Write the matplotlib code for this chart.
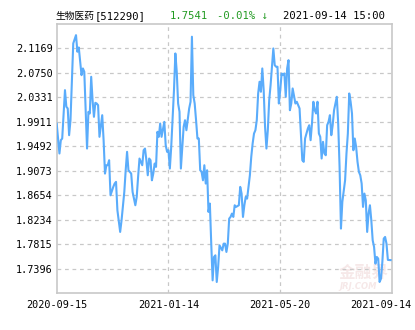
import matplotlib
matplotlib.use("Agg")
import matplotlib.pyplot as plt
from matplotlib.transforms import ScaledTranslation

# trading-day index (0 = 2020-09-15) and close value of the fund
days = [
    0, 2, 3, 4, 6, 7, 8, 9, 10, 12, 14, 15, 16, 18, 19, 20, 21, 22, 23, 24,
    25, 26, 27, 28, 29, 30, 31, 33, 34, 35, 36, 37, 38, 39, 41, 42, 43, 44, 46, 47,
    49, 50, 51, 52, 54, 55, 57, 58, 59, 60, 62, 63, 64,
    65, 66, 67, 68, 69, 70, 71, 72, 73, 74, 75, 76, 78, 79, 80, 81, 82, 83, 85, 86,
    87, 88, 89, 90, 91, 92, 93, 94, 96, 97, 98, 99, 100, 101, 102, 103, 104, 105, 106, 107,
    108, 109, 110, 111, 112, 113, 114, 115, 116, 117, 118, 120, 121, 122, 123, 124,
    125, 126, 127, 128, 129, 130, 132, 133, 134, 135, 136, 137, 138, 140, 141, 142, 143, 144, 145, 146,
    147, 148, 149, 150, 151, 152, 153, 154, 155, 156, 157, 158, 159, 160, 161, 162, 163, 164, 165, 166,
    167, 168, 169, 170, 171, 173, 174, 175, 176, 177, 178, 179, 180, 182, 183, 184, 185, 186, 187,
    188, 189, 190, 191, 192, 193, 194, 195, 196, 197, 198, 199, 200, 201, 203, 204, 205, 206, 207, 209,
    210, 211, 212, 213, 214, 215, 216, 217, 218, 219, 220, 221, 222, 223, 224, 225, 226, 227, 228, 229,
    230, 231, 232, 233, 234, 235, 236, 237, 238, 239, 240, 241, 242,
]
values = [
    1.9882, 1.9368, 1.9596, 1.9625, 2.0454, 2.0169, 2.0140, 1.9682, 1.9939, 2.1255,
    2.1397, 2.1112, 2.1186, 2.0711, 2.0826, 2.0769, 2.0110, 1.9453, 2.0083, 2.0054,
    2.0683, 2.0282, 1.9997, 2.0237, 2.0225, 2.0196, 1.9654, 2.0025, 1.9596, 1.9024,
    1.9167, 1.9167, 1.9253, 1.8652, 1.8796, 1.8853, 1.8882, 1.8395, 1.8024, 1.8223,
    1.8710, 1.9081, 1.9397, 1.9081, 1.9024, 1.8710, 1.8481, 1.8625, 1.8968, 1.9282,
    1.9167, 1.9424, 1.9453,
    1.9253, 1.8995, 1.9282, 1.9253, 1.8909, 1.9024, 1.9196, 1.9139, 1.9740, 1.9654,
    1.9882, 1.9654, 1.9911, 1.9510, 1.9397, 1.9424, 1.9110, 1.9482, 2.0454, 2.1083,
    2.0769, 2.0225, 2.0083, 1.9110, 1.9482, 1.9826, 1.9939, 1.9767, 2.0140, 2.0255,
    2.1370, 2.0368, 2.0225, 1.9939, 1.9625, 1.9625, 1.9081, 1.9054, 1.8909, 1.9167,
    1.8853, 1.9081, 1.8367, 1.8510, 1.7823, 1.7194, 1.7595, 1.7623, 1.7166, 1.7424,
    1.7794, 1.7708, 1.7823, 1.7823, 1.7681, 1.7823,
    1.8252, 1.8281, 1.8338, 1.8281, 1.8481, 1.8453, 1.8481, 1.8796, 1.8681, 1.8281,
    1.8481, 1.8625, 1.8595, 1.8995, 1.9311, 1.9539, 1.9711, 1.9767, 1.9939, 2.0397,
    2.0598, 2.0426, 2.0826, 2.0454, 1.9826, 1.9453, 1.9767, 2.0282, 2.0539, 2.0855,
    2.1169, 2.0882, 2.0855, 2.0855, 2.0225, 2.0454, 2.0740, 2.0711, 2.0740, 2.0340,
    2.0826, 2.0968, 2.0110, 2.0225, 2.0483, 2.0225, 2.0255, 2.0196, 2.0140, 1.9711,
    1.9253, 1.9225, 1.9625, 1.9796, 1.9853, 1.9596, 1.9882, 2.0255, 2.0110,
    2.0054, 2.0255, 1.9711, 1.9654, 1.9282, 1.9568, 1.9368, 1.9338, 1.9853, 1.9911,
    2.0025, 1.9682, 1.9853, 2.0110, 2.0340, 1.9882, 1.9139, 1.8081, 1.8539, 1.8909,
    1.9368, 1.9711, 2.0397, 2.0255, 2.0054, 1.9424, 1.9625, 1.9482, 1.9225, 1.9054,
    1.8995, 1.8853, 1.8453, 1.8681, 1.8566, 1.8024, 1.8338, 1.8481, 1.8223, 1.7880,
    1.7767, 1.7480, 1.7595, 1.7566, 1.7166, 1.7223, 1.7509, 1.7909, 1.7938, 1.7823,
    1.7545, 1.7542, 1.7541,
]

y_ticks = [1.7396, 1.7815, 1.8234, 1.8654, 1.9073, 1.9492, 1.9911, 2.0331, 2.0750, 2.1169]
x_tick_days = [0, 81, 162, 243]
x_tick_labels = ["2020-09-15", "2021-01-14", "2021-05-20", "2021-09-14"]

mono = "DejaVu Sans Mono"
cjk = ["Noto Sans CJK SC", "DejaVu Sans"]

fig = plt.figure(figsize=(4.15, 3.3), dpi=100)
ax = fig.add_axes([0.1366, 0.1121, 0.8080, 0.8152])

ax.plot(days, values, color="#5aacfb", lw=1.5, solid_joinstyle="round", zorder=3)

ax.set_xlim(0, 243)
ax.set_ylim(1.6977, 2.1588)

ax.set_yticks(y_ticks)
ax.set_yticklabels([f"{v:.4f}" for v in y_ticks], family=mono, fontsize=7.3)
ax.set_xticks(x_tick_days)
ax.set_xticklabels(x_tick_labels, family=mono, fontsize=7.3)
ax.tick_params(length=0, pad=3)
ax.tick_params(axis="x", pad=5)
# last date label sits a bit left of the frame edge
last = ax.get_xticklabels()[-1]
last.set_transform(last.get_transform() + ScaledTranslation(-11 / 100, 0, fig.dpi_scale_trans))

for y in y_ticks:
    ax.axhline(y, color="#c8c8c8", lw=0.9, ls=(0, (3, 3)), zorder=1)
for d in x_tick_days[1:3]:
    ax.axvline(d, color="#c8c8c8", lw=0.9, ls=(0, (3, 3)), zorder=1)

for s in ax.spines.values():
    s.set_color("#c8c8c8")
    s.set_linewidth(1.2)

# faint watermark
ax.text(0.915, 0.075, "金融界", transform=ax.transAxes, ha="center", va="center",
        family=cjk, fontsize=12, fontweight="bold", color="#f6e8e8", zorder=0)
ax.text(0.90, 0.025, "JRJ.COM", transform=ax.transAxes, ha="center", va="center",
        fontsize=6, style="italic", fontweight="bold", color="#f6e8e8", zorder=0)

# header
fig.text(55 / 415, 1 - 16 / 330, "生物医药", family=cjk, fontsize=7.0, va="center")
fig.text(95 / 415, 1 - 16 / 330, "[512290]", family=mono, fontsize=7.6, va="center")
fig.text(170 / 415, 1 - 16 / 330, "1.7541", family=mono, fontsize=7.6, va="center",
         color="#229a22")
fig.text(217 / 415, 1 - 16 / 330, "-0.01% ↓", family=mono, fontsize=7.6, va="center",
         color="#229a22")
fig.text(283 / 415, 1 - 16 / 330, "2021-09-14 15:00", family=mono, fontsize=7.6,
         va="center")

fig.savefig("out.png", dpi=100)
